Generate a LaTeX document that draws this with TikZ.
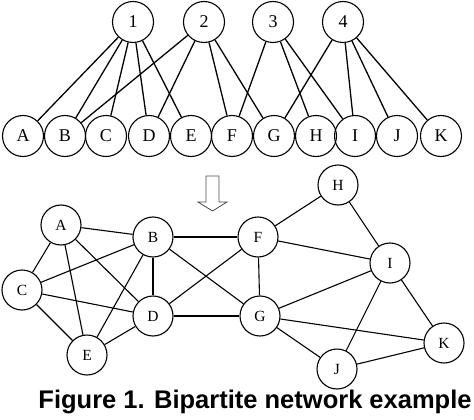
\documentclass[tikz,border=0pt]{standalone}
\usepackage{fontspec}
\setmainfont{Liberation Serif}
\newfontfamily\capfont{Liberation Sans}
\begin{document}
\begin{tikzpicture}[x=1pt,y=-1pt,
  vtx/.style={circle,draw,line width=1.1pt,minimum size=41pt,inner sep=0pt,font=\fontsize{18}{20}\selectfont},
  gvtx/.style={circle,draw,line width=1.1pt,minimum size=40pt,inner sep=0pt,font=\fontsize{15.5}{18}\selectfont},
  edge/.style={line width=1.3pt},
  gedge/.style={line width=1.1pt}]
\useasboundingbox (0,0) rectangle (474,420);
% top bipartite
\node[vtx] (t1) at (133,22) {1};
\node[vtx] (t2) at (204,22) {2};
\node[vtx] (t3) at (273,22) {3};
\node[vtx] (t4) at (343,22) {4};
\foreach \n/\x in {A/23,B/65,C/106,D/149,E/191,F/232,G/274,H/316,I/355,J/397,K/441}
  \node[vtx] (t\n) at (\x,136) {\n};
\foreach \a/\b in {1/A,1/B,1/C,1/D,1/E,2/B,2/D,2/F,2/G,3/F,3/H,3/I,4/G,4/I,4/J,4/K}
  \draw[edge] (t\a) -- (t\b);
% arrow
\draw[line width=0.8pt,draw=black!70] (206,176) -- (219,176) -- (219,202) -- (227,202) -- (212.5,211) -- (198,202) -- (206,202) -- cycle;
% projected graph
\node[gvtx] (gA) at (61,225) {A};
\node[gvtx] (gB) at (153,237) {B};
\node[gvtx] (gC) at (22,290) {C};
\node[gvtx] (gD) at (153,316) {D};
\node[gvtx] (gE) at (87,355) {E};
\node[gvtx] (gF) at (258,237) {F};
\node[gvtx] (gG) at (260,316) {G};
\node[gvtx] (gH) at (338,185) {H};
\node[gvtx] (gI) at (390,263) {I};
\node[gvtx] (gJ) at (337,369) {J};
\node[gvtx] (gK) at (444,343) {K};
\foreach \a/\b in {A/B,A/C,A/E,A/D,C/B,C/D,C/E,E/B,E/D,B/D,B/F,B/G,D/F,D/G,F/G,F/H,F/I,H/I,I/G,I/J,I/K,G/K,G/J,J/K}
  \draw[gedge] (g\a) -- (g\b);
% caption
\node[font=\capfont\bfseries\fontsize{25.5}{30}\selectfont,anchor=base,inner sep=0pt] (cap) at (255,408) {Figure 1. Bipartite network example};
\end{tikzpicture}
\end{document}
